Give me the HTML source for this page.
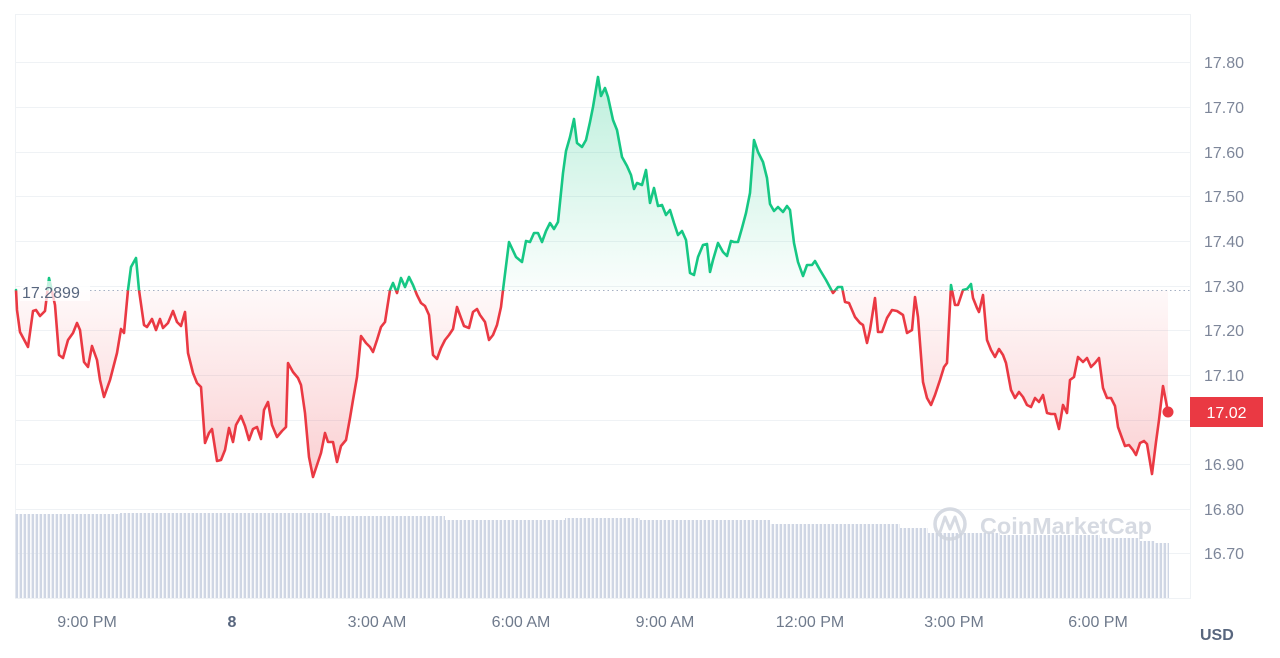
<!DOCTYPE html>
<html>
<head>
<meta charset="utf-8">
<style>
  html,body{margin:0;padding:0;background:#fff;}
  body{width:1280px;height:658px;overflow:hidden;}
  svg{display:block;font-family:"Liberation Sans",sans-serif;}
</style>
</head>
<body>
<svg width="1280" height="658" viewBox="0 0 1280 658" xmlns="http://www.w3.org/2000/svg">
  <defs>
    <pattern id="vb" x="15" y="0" width="4" height="658" patternUnits="userSpaceOnUse">
      <rect x="0.6" y="0" width="2.5" height="658" fill="#cfd6e4"/>
    </pattern>
    <linearGradient id="gg" x1="0" y1="77" x2="0" y2="290" gradientUnits="userSpaceOnUse">
      <stop offset="0" stop-color="#16c784" stop-opacity="0.28"/>
      <stop offset="1" stop-color="#16c784" stop-opacity="0.02"/>
    </linearGradient>
    <linearGradient id="rg" x1="0" y1="290" x2="0" y2="477" gradientUnits="userSpaceOnUse">
      <stop offset="0" stop-color="#ea3943" stop-opacity="0.03"/>
      <stop offset="1" stop-color="#ea3943" stop-opacity="0.24"/>
    </linearGradient>
    <clipPath id="above"><rect x="0" y="0" width="1280" height="290.5"/></clipPath>
    <clipPath id="below"><rect x="0" y="290.5" width="1280" height="400"/></clipPath>
    <path id="areaPath" d="M16,290 L16,290 17,310 20,332 28,347 33,311 36,310 40,316 45,311 49,278 55,305 59,355 63,358 68,340 73,333 77,323 80,330 84,362 88,367 92,346 97,360 100,380 104,397 110,380 117,353 121,329 124,333 128,290 131,267 136,258 139,290 144,325 147,327 152,319 156,330 160,319 163,328 168,323 173,311 177,322 181,326 185,312 188,353 193,373 197,383 201,387 205,443 209,433 212,429 217,461 221,460 225,450 229,428 233,442 236,425 241,416 245,426 249,440 253,429 257,427 261,439 264,410 268,402 272,425 277,437 282,431 286,427 288,363 293,372 298,378 301,385 305,413 309,457 313,477 317,465 321,453 325,433 328,442 333,442 337,462 341,446 346,440 350,418 353,400 357,377 361,336 366,343 370,347 373,352 377,340 381,327 385,322 390,290 393,283 397,293 401,278 405,287 409,277 413,285 417,295 421,303 425,306 429,315 433,355 437,359 441,348 445,340 449,335 453,329 457,307 461,318 464,326 469,328 473,312 477,309 480,315 485,322 489,340 493,335 497,325 501,307 503,290 509,242 516,257 522,262 526,241 530,242 534,233 538,233 542,242 546,231 550,223 554,229 558,222 563,173 566,151 570,137 574,119 577,143 582,147 586,140 590,122 593,107 598,77 601,96 605,88 608,97 613,120 617,130 622,157 627,166 631,175 634,189 637,183 642,185 646,170 650,203 654,188 658,206 662,205 666,215 670,210 674,223 678,235 682,231 686,240 690,273 694,275 698,257 703,245 707,244 710,272 713,260 718,243 723,252 727,256 731,241 734,242 738,242 742,228 746,213 750,193 754,140 758,152 763,162 767,178 770,204 774,211 778,207 783,212 787,206 790,210 794,243 798,262 803,276 807,265 812,265 815,261 820,270 826,280 833,293 838,287 842,287 845,302 849,303 855,317 860,323 863,325 867,343 870,330 875,298 878,332 882,332 887,318 892,310 897,311 900,313 903,315 907,333 912,330 915,297 918,317 923,382 927,398 931,405 935,395 940,380 944,367 947,363 951,285 955,305 958,305 963,290 967,289 971,284 973,298 977,308 979,312 983,295 987,340 991,350 995,357 999,349 1003,355 1006,363 1011,390 1015,398 1019,392 1023,397 1027,405 1031,407 1035,398 1039,402 1043,395 1047,413 1051,414 1055,414 1059,429 1063,405 1067,413 1070,380 1074,377 1078,357 1083,362 1087,358 1091,367 1095,363 1099,358 1103,388 1107,398 1111,398 1115,406 1118,427 1122,438 1125,446 1129,445 1133,450 1136,455 1140,443 1144,441 1147,444 1152,474 1156,442 1159,420 1163,386 1168,412 L1168,290 Z"/>
    <polyline id="pl" points="16,290 17,310 20,332 28,347 33,311 36,310 40,316 45,311 49,278 55,305 59,355 63,358 68,340 73,333 77,323 80,330 84,362 88,367 92,346 97,360 100,380 104,397 110,380 117,353 121,329 124,333 128,290 131,267 136,258 139,290 144,325 147,327 152,319 156,330 160,319 163,328 168,323 173,311 177,322 181,326 185,312 188,353 193,373 197,383 201,387 205,443 209,433 212,429 217,461 221,460 225,450 229,428 233,442 236,425 241,416 245,426 249,440 253,429 257,427 261,439 264,410 268,402 272,425 277,437 282,431 286,427 288,363 293,372 298,378 301,385 305,413 309,457 313,477 317,465 321,453 325,433 328,442 333,442 337,462 341,446 346,440 350,418 353,400 357,377 361,336 366,343 370,347 373,352 377,340 381,327 385,322 390,290 393,283 397,293 401,278 405,287 409,277 413,285 417,295 421,303 425,306 429,315 433,355 437,359 441,348 445,340 449,335 453,329 457,307 461,318 464,326 469,328 473,312 477,309 480,315 485,322 489,340 493,335 497,325 501,307 503,290 509,242 516,257 522,262 526,241 530,242 534,233 538,233 542,242 546,231 550,223 554,229 558,222 563,173 566,151 570,137 574,119 577,143 582,147 586,140 590,122 593,107 598,77 601,96 605,88 608,97 613,120 617,130 622,157 627,166 631,175 634,189 637,183 642,185 646,170 650,203 654,188 658,206 662,205 666,215 670,210 674,223 678,235 682,231 686,240 690,273 694,275 698,257 703,245 707,244 710,272 713,260 718,243 723,252 727,256 731,241 734,242 738,242 742,228 746,213 750,193 754,140 758,152 763,162 767,178 770,204 774,211 778,207 783,212 787,206 790,210 794,243 798,262 803,276 807,265 812,265 815,261 820,270 826,280 833,293 838,287 842,287 845,302 849,303 855,317 860,323 863,325 867,343 870,330 875,298 878,332 882,332 887,318 892,310 897,311 900,313 903,315 907,333 912,330 915,297 918,317 923,382 927,398 931,405 935,395 940,380 944,367 947,363 951,285 955,305 958,305 963,290 967,289 971,284 973,298 977,308 979,312 983,295 987,340 991,350 995,357 999,349 1003,355 1006,363 1011,390 1015,398 1019,392 1023,397 1027,405 1031,407 1035,398 1039,402 1043,395 1047,413 1051,414 1055,414 1059,429 1063,405 1067,413 1070,380 1074,377 1078,357 1083,362 1087,358 1091,367 1095,363 1099,358 1103,388 1107,398 1111,398 1115,406 1118,427 1122,438 1125,446 1129,445 1133,450 1136,455 1140,443 1144,441 1147,444 1152,474 1156,442 1159,420 1163,386 1168,412"/>
  </defs>

  <!-- frame & grid -->
  <g stroke="#eff2f5" stroke-width="1" fill="none">
    <rect x="15.5" y="14.5" width="1175" height="584"/>
    <line x1="15" y1="62.5" x2="1190" y2="62.5"/>
    <line x1="15" y1="107.5" x2="1190" y2="107.5"/>
    <line x1="15" y1="152.5" x2="1190" y2="152.5"/>
    <line x1="15" y1="196.5" x2="1190" y2="196.5"/>
    <line x1="15" y1="241.5" x2="1190" y2="241.5"/>
    <line x1="15" y1="286.5" x2="1190" y2="286.5"/>
    <line x1="15" y1="330.5" x2="1190" y2="330.5"/>
    <line x1="15" y1="375.5" x2="1190" y2="375.5"/>
    <line x1="15" y1="420.5" x2="1190" y2="420.5"/>
    <line x1="15" y1="464.5" x2="1190" y2="464.5"/>
    <line x1="15" y1="509.5" x2="1190" y2="509.5"/>
    <line x1="15" y1="553.5" x2="1190" y2="553.5"/>
  </g>

  <!-- volume -->
  <path fill="url(#vb)" d="M15,598 L15,514 L120,514 L120,513 L330,513 L330,516 L445,516 L445,520 L565,520 L565,518 L640,518 L640,520 L770,520 L770,524 L900,524 L900,528 L928,528 L928,533 L1000,533 L1000,535 L1100,535 L1100,538 L1140,538 L1140,541 L1155,541 L1155,543 L1169,543 L1169,598 Z"/>

  <!-- watermark -->
  <g opacity="0.85">
    <circle cx="950" cy="524" r="15" fill="none" stroke="#cfd4dd" stroke-width="3.5"/>
    <path d="M940,532 L945,517 L950,529 L955,517 L960,532" fill="none" stroke="#cfd4dd" stroke-width="3" stroke-linejoin="round" stroke-linecap="round"/>
    <text x="980" y="534" font-size="23" font-weight="bold" fill="#cfd4dd" textLength="172" lengthAdjust="spacingAndGlyphs">CoinMarketCap</text>
  </g>

  <!-- area fills -->
  <g clip-path="url(#above)" fill="url(#gg)"><use href="#areaPath"/></g>
  <g clip-path="url(#below)" fill="url(#rg)"><use href="#areaPath"/></g>

  <!-- baseline -->
  <line x1="90" y1="290.5" x2="1190" y2="290.5" stroke="#a6b0c3" stroke-width="1" stroke-dasharray="1.5 3"/>

  <!-- price line -->
  <g fill="none" stroke-width="2.6" stroke-linejoin="round" stroke-linecap="round">
    <g clip-path="url(#below)" stroke="#ea3943"><use href="#pl"/></g>
    <g clip-path="url(#above)" stroke="#16c784"><use href="#pl"/></g>
  </g>

  <!-- baseline label -->
  <rect x="20" y="281" width="70" height="20" fill="#ffffff" opacity="0.75"/>
  <text x="22" y="298" font-size="16" fill="#58667e">17.2899</text>

  <!-- end dot -->
  <circle cx="1168" cy="412" r="5.5" fill="#ea3943"/>

  <!-- right axis -->
  <g font-size="16" fill="#7d8699">
    <text x="1204" y="68">17.80</text>
    <text x="1204" y="113">17.70</text>
    <text x="1204" y="158">17.60</text>
    <text x="1204" y="202">17.50</text>
    <text x="1204" y="247">17.40</text>
    <text x="1204" y="292">17.30</text>
    <text x="1204" y="336">17.20</text>
    <text x="1204" y="381">17.10</text>
    <text x="1204" y="470">16.90</text>
    <text x="1204" y="515">16.80</text>
    <text x="1204" y="559">16.70</text>
  </g>
  <rect x="1190" y="397" width="73" height="30" fill="#ea3943"/>
  <text x="1226.5" y="418" font-size="16" fill="#ffffff" text-anchor="middle">17.02</text>

  <!-- bottom axis -->
  <g font-size="16" fill="#6f7a8c" text-anchor="middle">
    <text x="87" y="627">9:00 PM</text>
    <text x="232" y="627" font-weight="bold" fill="#58667e">8</text>
    <text x="377" y="627">3:00 AM</text>
    <text x="521" y="627">6:00 AM</text>
    <text x="665" y="627">9:00 AM</text>
    <text x="810" y="627">12:00 PM</text>
    <text x="954" y="627">3:00 PM</text>
    <text x="1098" y="627">6:00 PM</text>
  </g>
  <text x="1200" y="640" font-size="16" font-weight="bold" fill="#58667e">USD</text>
</svg>
</body>
</html>
